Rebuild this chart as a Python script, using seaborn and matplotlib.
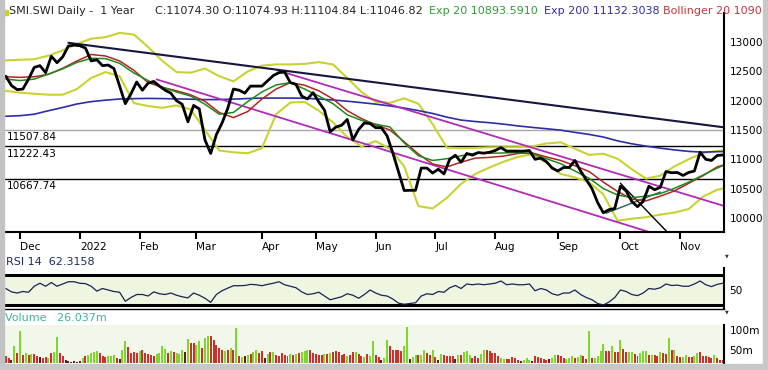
# SMI.SWI daily - 1 year, price panel + RSI + volume
import seaborn as sns
import matplotlib.pyplot as plt
from matplotlib.patches import Rectangle

# ------------------------------------------------------------
# data
# ------------------------------------------------------------
month_pos = [5, 26, 47, 67, 90, 109, 130, 151, 172, 194, 216, 237]
month_labels = ["Dec", "2022", "Feb", "Mar", "Apr", "May", "Jun", "Jul",
                "Aug", "Sep", "Oct", "Nov"]

# close, every second trading day
close_idx = list(range(0, 253, 2))
close = [12420, 12260, 12190, 12200, 12370, 12570, 12600, 12480, 12760, 12650,
         12750, 12936, 12950, 12940, 12900, 12680, 12700, 12600, 12610, 12550,
         12250, 11950, 12120, 12320, 12180, 12300, 12330, 12250, 12180, 12130,
         12000, 11940, 11640, 11920, 11860, 11330, 11100, 11420, 11620, 11870,
         12200, 12180, 12130, 12250, 12250, 12250, 12340, 12430, 12480, 12490,
         12310, 12280, 12080, 12030, 12138, 11980, 11840, 11470, 11550, 11580,
         11680, 11330, 11510, 11620, 11610, 11540, 11540, 11400, 11110, 10790,
         10466, 10470, 10470, 10850, 10850, 10765, 10830, 10750, 11000, 11069,
         10950, 11100, 11070, 11115, 11105, 11120, 11150, 11200, 11140, 11140,
         11140, 11140, 11150, 11000, 11020, 10960, 10850, 10800, 10860, 10860,
         10980, 10800, 10650, 10500, 10260, 10086, 10140, 10160, 10540, 10460,
         10280, 10190, 10280, 10540, 10480, 10520, 10790, 10770, 10775, 10724,
         10775, 10800, 11120, 11000, 10980, 11065, 11074]

# indicators, every fifth trading day
ind_idx = list(range(0, 251, 5)) + [252]
ema20 = [12370, 12345, 12370, 12455, 12545, 12655, 12725, 12720, 12640, 12475,
         12345, 12230, 12150, 12080, 11940, 11770, 11800, 11985, 12150, 12270,
         12310, 12200, 12080, 11950, 11760, 11665, 11600, 11552, 11280, 11060,
         10980, 11010, 11060, 11103, 11103, 11108, 11116, 11095, 11010, 10925,
         10800, 10675, 10500, 10390, 10345, 10370, 10414, 10505, 10610, 10730,
         10850, 10893]
boll_mid = [12410, 12400, 12410, 12452, 12555, 12680, 12790, 12765, 12680, 12520,
            12310, 12230, 12170, 12100, 11990, 11800, 11712, 11815, 12030, 12200,
            12310, 12265, 12170, 12030, 11830, 11695, 11590, 11500, 11300, 11090,
            10920, 10870, 10950, 11020, 11032, 11055, 11100, 11110, 11040, 10980,
            10890, 10790, 10610, 10450, 10320, 10290, 10370, 10460, 10590, 10720,
            10870, 10900]
boll_up = [12690, 12700, 12710, 12770, 12860, 12970, 13060, 13085, 13160, 13130,
           12920, 12680, 12490, 12480, 12550, 12420, 12330, 12500, 12600, 12621,
           12621, 12630, 12660, 12620, 12390, 12150, 11980, 11965, 12040, 11950,
           11600, 11200, 11190, 11195, 11205, 11207, 11207, 11220, 11270, 11290,
           11180, 11075, 11095, 11010, 10830, 10670, 10720, 10880, 11000, 11110,
           11140, 11150]
boll_low = [12170, 12138, 12120, 12103, 12103, 12200, 12390, 12490, 12420, 11960,
            11910, 11880, 11920, 11850, 11500, 11150, 11120, 11103, 11190, 11770,
            11970, 11980, 11830, 11630, 11380, 11220, 11310, 11180, 10880, 10200,
            10160, 10340, 10580, 10750, 10860, 10960, 11040, 11090, 10940, 10750,
            10690, 10610, 10400, 9950, 9985, 10010, 10055, 10090, 10150, 10360,
            10480, 10500]
ema200 = [11735, 11745, 11770, 11830, 11885, 11945, 11985, 12010, 12030, 12036,
          12040, 12037, 12032, 12027, 12020, 12020, 12028, 12038, 12045, 12046,
          12046, 12042, 12030, 12013, 11992, 11968, 11942, 11912, 11875, 11832,
          11783, 11720, 11670, 11645, 11625, 11600, 11570, 11545, 11522, 11498,
          11460, 11425, 11380, 11315, 11265, 11225, 11190, 11160, 11135, 11122,
          11130, 11132]

# horizontal levels
levels = [11507.84, 11222.43, 10667.74]
level_colors = ["#a8a8a8", "black", "black"]

# drawn trend lines (start / end)
trend_long_x, trend_long_y = [22, 252.4], [12990, 11546]
trend_mag1_x, trend_mag1_y = [53, 226], [12365, 9760]
trend_mag2_x, trend_mag2_y = [95.2, 252.4], [12523, 10203]
trend_teal_x, trend_teal_y = [211, 230], [10080, 10440]
trend_down_x, trend_down_y = [216, 232.3], [10590, 9765]

# RSI 14, every second trading day
rsi_idx = close_idx
rsi = [52, 47.5, 46, 48, 47, 55, 59, 55, 60, 55,
       58, 61, 61, 59, 58.5, 55, 48.5, 52, 50, 48,
       47, 35, 40, 44, 44, 42, 47.5, 45, 44, 46,
       43, 41, 39.5, 46, 43, 39, 33.5, 44, 49, 52.5,
       55.7, 55.7, 56, 57.5, 57, 55.7, 57.5, 59, 61, 57,
       55, 53, 47.5, 44, 45, 47, 42, 37, 39, 41,
       45, 43, 39, 44, 50, 46, 43, 42, 38, 32.5,
       31, 32, 33, 42, 45, 44, 48, 47, 53, 56,
       52, 58, 57, 58, 57, 58, 59, 62, 57, 58,
       57, 57, 58, 49, 52, 50, 45, 43, 46, 46,
       50, 44, 40, 37, 32, 30, 34, 40, 50, 48,
       44, 42.5, 46, 52, 51, 53, 58, 56, 56.5, 55,
       55, 58, 62, 57, 54.5, 57.5, 59]

# volume (millions), every trading day; g = up, r = down, d = dark
volume = [34, 30, 26, 59, 42, 97, 38, 42, 38, 41,
          41, 36, 32, 30, 32, 30, 42, 44, 82, 42,
          36, 24, 22, 19, 22, 19, 22, 30, 34, 38,
          42, 44, 47, 42, 36, 32, 34, 36, 38, 30,
          28, 51, 72, 57, 42, 44, 42, 47, 51, 42,
          41, 38, 36, 41, 42, 59, 52, 42, 47, 44,
          42, 41, 49, 44, 78, 68, 68, 63, 72, 55,
          80, 84, 84, 76, 63, 55, 51, 47, 51, 55,
          51, 105, 36, 32, 36, 38, 41, 44, 51, 42,
          47, 30, 41, 44, 44, 38, 36, 42, 38, 36,
          41, 38, 41, 42, 44, 47, 49, 51, 42, 41,
          38, 38, 41, 41, 42, 44, 47, 44, 38, 41,
          36, 38, 44, 44, 41, 34, 32, 41, 36, 72,
          38, 32, 24, 30, 76, 59, 51, 49, 51,
          47, 59, 107, 28, 32, 38, 38, 38, 49, 42,
          38, 51, 32, 26, 41, 38, 36, 34, 36, 28,
          38, 38, 44, 47, 38, 30, 36, 30, 41, 49,
          51, 47, 42, 42, 36, 30, 28, 28, 28, 32,
          30, 26, 22, 26, 30, 26, 22, 34, 32, 30,
          28, 26, 28, 30, 38, 38, 36, 30, 28, 30,
          34, 30, 32, 38, 36, 28, 97, 30, 30, 34,
          47, 66, 47, 47, 61, 44, 44, 74, 52, 44,
          44, 44, 41, 36, 42, 47, 47, 38, 38, 38,
          36, 44, 42, 41, 80, 49, 51, 36, 32, 32,
          38, 32, 32, 36, 42,
          44, 36, 36, 32, 29, 38, 29, 26, 26]
volume_dir = ("rrdgrgrgrg" "rrdrrgrggr" "rddddddgrg" "gggrrrgggr" "dggrrrrgrr"
              "rrrggggrgr" "gggdgrrggr" "ggrrrrrgrg" "rgrgdgrggr" "rdgrgrrrrr"
              "grgrgggrrr" "rrgrgrrrrr" "grrgrrgrgg" "rrdggrrrr"
              "rggdggrggr" "rgrdgrrrrd" "grgggrrrgg" "rrrrrggrrr" "rrdgggdrrr"
              "rrdggrrrgg" "grggrrgrgg" "ggrrgrrgrr" "ggrrgggrgr" "rgrrgrgrrg"
              "grrgg"
              "rrrrrgrrr")
volume_idx = list(range(len(volume)))

# ------------------------------------------------------------
# figure layout
# ------------------------------------------------------------
sns.set_theme(style="white")
plt.rcParams["font.family"] = ["DejaVu Sans"]

W, H = 768, 370
fig = plt.figure(figsize=(W / 100, H / 100), dpi=100)


def panel(top, bottom):
    return fig.add_axes([5 / W, 1 - bottom / H, 719 / W, (bottom - top) / H])


ax = panel(13, 232)
ax_rsi = panel(268, 309)
ax_vol = panel(325, 363)
x_min, x_max = -0.28, 252.4

# ------------------------------------------------------------
# price panel
# ------------------------------------------------------------
for lvl, col in zip(levels, level_colors):
    ax.axhline(lvl, color=col, lw=1, zorder=1)
    ax.annotate(f"{lvl:.2f}", xy=(0, lvl), xycoords=("axes fraction", "data"),
                xytext=(1.5, -1.8), textcoords="offset points",
                va="top", ha="left", fontsize=7.6, color="black")

sns.lineplot(x=ind_idx, y=boll_up, color="#c9d330", lw=1.5, ax=ax)
sns.lineplot(x=ind_idx, y=boll_low, color="#c9d330", lw=1.5, ax=ax)
sns.lineplot(x=ind_idx, y=ema200, color="#2d2da6", lw=1.2, ax=ax)
sns.lineplot(x=trend_mag1_x, y=trend_mag1_y, color="#b22ab8", lw=1.3, ax=ax)
sns.lineplot(x=trend_mag2_x, y=trend_mag2_y, color="#b22ab8", lw=1.3, ax=ax)
sns.lineplot(x=trend_long_x, y=trend_long_y, color="#16163e", lw=1.5, ax=ax)
sns.lineplot(x=trend_teal_x, y=trend_teal_y, color="#245e52", lw=1.0, ax=ax)
sns.lineplot(x=trend_down_x, y=trend_down_y, color="black", lw=1.0, ax=ax)
sns.lineplot(x=ind_idx, y=boll_mid, color="#b42222", lw=1.1, ax=ax)
sns.lineplot(x=ind_idx, y=ema20, color="#1d8a1d", lw=1.1, ax=ax)
sns.lineplot(x=close_idx, y=close, color="black", lw=2.0, ax=ax)

ax.set_xlim(x_min, x_max)
ax.set_ylim(9758, 13499)
ax.yaxis.tick_right()
ax.set_yticks([10000, 10500, 11000, 11500, 12000, 12500, 13000])
ax.tick_params(axis="y", length=0, pad=4, labelsize=7.6, colors="black")
ax.set_xticks(month_pos)
ax.set_xticklabels(month_labels, ha="left")
ax.tick_params(axis="x", length=5, width=1.5, direction="out", pad=2,
               labelsize=7.6, colors="black", bottom=True)
for lab in ax.get_xticklabels():
    lab.set_x(lab.get_position()[0])
ax.set_xlabel("")
ax.set_ylabel("")
for s in ["top", "left"]:
    ax.spines[s].set_visible(False)
ax.spines["right"].set_linewidth(1.5)
ax.spines["bottom"].set_linewidth(1.5)
ax.spines["right"].set_color("black")
ax.spines["bottom"].set_color("black")

# ------------------------------------------------------------
# RSI panel
# ------------------------------------------------------------
ax_rsi.axhspan(30, 70, color="#eef6e2", lw=0, zorder=0)
ax_rsi.axhline(70, color="black", lw=2.2)
ax_rsi.axhline(30, color="black", lw=2.2)
sns.lineplot(x=rsi_idx, y=rsi, color="#1f2050", lw=0.9, ax=ax_rsi)
ax_rsi.set_xlim(x_min, x_max)
ax_rsi.set_ylim(24.7, 79.3)
ax_rsi.yaxis.tick_right()
ax_rsi.set_yticks([50])
ax_rsi.set_xticks([])
ax_rsi.tick_params(axis="y", length=0, pad=4, labelsize=7.6, colors="black")
ax_rsi.set_xlabel("")
ax_rsi.set_ylabel("")
for s in ["top", "left"]:
    ax_rsi.spines[s].set_visible(False)
ax_rsi.spines["right"].set_linewidth(1.5)
ax_rsi.spines["bottom"].set_linewidth(1.0)
ax_rsi.spines["right"].set_color("black")
ax_rsi.spines["bottom"].set_color("black")
ax_rsi.patch.set_alpha(0)

# ------------------------------------------------------------
# volume panel
# ------------------------------------------------------------
ax_vol.set_facecolor("#f1f8ea")
sns.barplot(x=volume_idx, y=volume, hue=list(volume_dir),
            palette={"g": "#7fd62c", "r": "#cf2f2a", "d": "#5e1c1c"},
            native_scale=True, dodge=False, width=0.7, saturation=1,
            errorbar=None, legend=False, linewidth=0, ax=ax_vol)
ax_vol.set_xlim(x_min, x_max)
ax_vol.set_ylim(17.5, 112.5)
ax_vol.yaxis.tick_right()
ax_vol.set_yticks([50, 100])
ax_vol.set_yticklabels(["50m", "100m"])
ax_vol.set_xticks([])
ax_vol.tick_params(axis="y", length=0, pad=4, labelsize=7.6, colors="black")
ax_vol.set_xlabel("")
ax_vol.set_ylabel("")
for s in ["top", "left", "bottom"]:
    ax_vol.spines[s].set_visible(False)
ax_vol.spines["right"].set_linewidth(1.5)
ax_vol.spines["right"].set_color("black")

# ------------------------------------------------------------
# header texts, panel titles, frame
# ------------------------------------------------------------
hy = 1 - 11.5 / H
fig.text(9 / W, hy, "SMI.SWI Daily -  1 Year", fontsize=8, va="center")
fig.text(155 / W, hy, "C:11074.30 O:11074.93 H:11104.84 L:11046.82",
         fontsize=8, va="center")
fig.text(429 / W, hy, "Exp 20 10893.5910", fontsize=8, va="center",
         color="#36993a")
fig.text(544 / W, hy, "Exp 200 11132.3038", fontsize=8, va="center",
         color="#31309e")
fig.text(663 / W, hy, "Bollinger 20 1090", fontsize=8, va="center",
         color="#bd3a3e")

fig.text(6 / W, 1 - 262 / H, "RSI 14  62.3158", fontsize=8, va="center",
         color="#1d2a66")
fig.text(5 / W, 1 - 318 / H, "Volume   26.037m", fontsize=8, va="center",
         color="#3cb39c")

for yy in [256, 312]:
    fig.text(727 / W, 1 - yy / H, "\u25bc", fontsize=3.5, ha="center",
             va="center", color="#333333")

fig.patches.append(Rectangle((3 / W, 1 - 15 / H), 5 / W, 5 / H,
                             transform=fig.transFigure, color="#d4d020",
                             zorder=10))
fig.patches.append(Rectangle((0, 0), 4 / W, 1, transform=fig.transFigure,
                             color="#c2c2c2", zorder=10))
fig.patches.append(Rectangle((0, 0), 1, 6 / H, transform=fig.transFigure,
                             color="#c8c8c8", zorder=10))
fig.patches.append(Rectangle((763 / W, 0), 5 / W, 1, transform=fig.transFigure,
                             color="#c8c8c8", zorder=10))

fig.savefig("out.png", dpi=100)
